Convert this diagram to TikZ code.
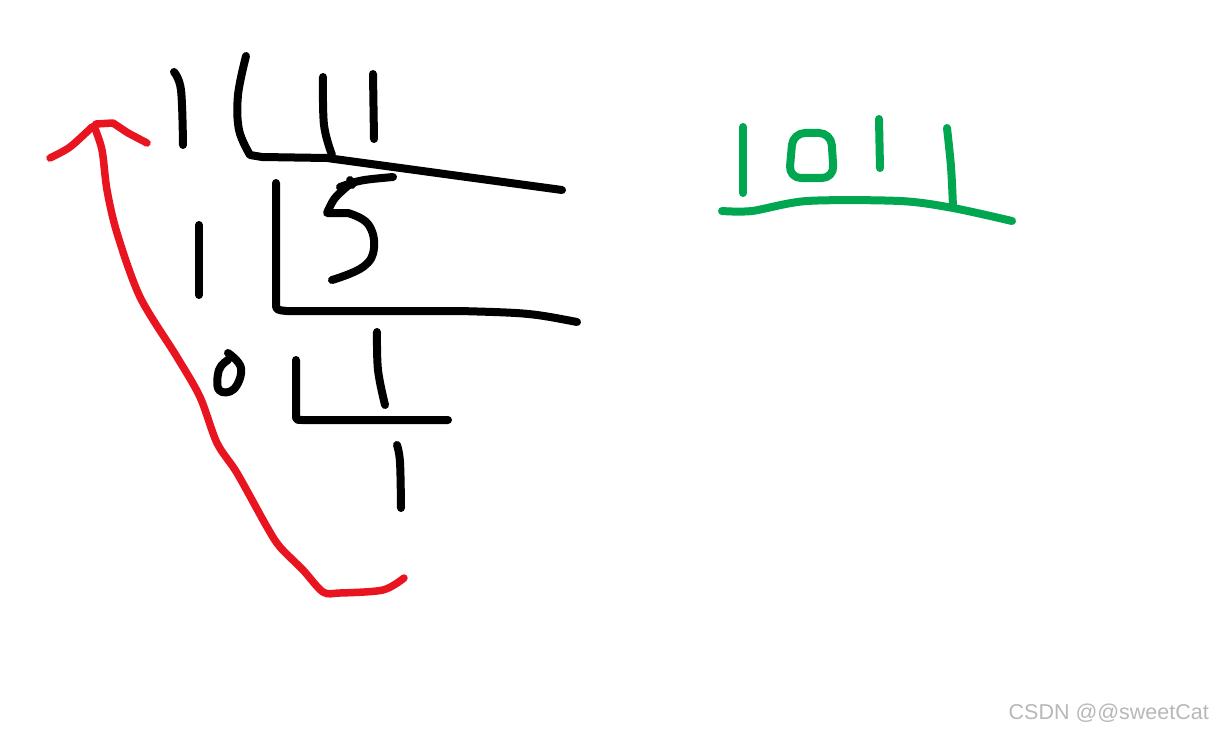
\documentclass[tikz,border=0pt]{standalone}
\usepackage{fontspec}
\setmainfont{Liberation Sans}
\definecolor{inkred}{HTML}{E8141F}
\definecolor{inkgreen}{HTML}{00A650}
\begin{document}
\begin{tikzpicture}[x=1pt,y=-1pt,
  ink/.style={line width=8pt,line cap=round,line join=round},
  blk/.style={ink,black},
  red/.style={ink,inkred,line width=7.5pt},
  grn/.style={ink,inkgreen}]
\useasboundingbox[fill=white] (0,0) rectangle (1213,733);
% black digits and brackets
\draw[blk] plot[smooth,tension=0.6] coordinates {(174,72) (181,90) (183,145)};
\draw[blk] plot[smooth,tension=0.6] coordinates {(246,56) (238,95) (239,130) (250,155)} -- (262,157) -- (327,158) -- (562,190);
\draw[blk] plot[smooth,tension=0.6] coordinates {(323,77) (324,125) (332,155)};
\draw[blk] (373,74) -- (374,139);
% the 5
\draw[blk] (340,187) .. controls (360,180) .. (393,177);
\draw[blk] (350,180) -- (352,185);
\draw[blk] plot[smooth,tension=0.6] coordinates {(350,184) (335,198) (327,213)} -- (348,213)
  plot[smooth,tension=0.7] coordinates {(348,213) (368,224) (374,248) (363,267) (332,280)};
\draw[blk] (199,225) -- (199,295);
\draw[blk] (276,183) -- (276,303) .. controls (276,310) .. (287,311) -- (460,311) .. controls (530,313) .. (577,322);
% lower part
\draw[blk] plot[smooth,tension=0.7] coordinates {(228,353) (241,368) (234,389) (219,390) (219,370) (228,360)};
\draw[blk] plot[smooth,tension=0.6] coordinates {(377,332) (378,370) (385,405)};
\draw[blk] (296,360) -- (296,414) .. controls (296,420) .. (302,420) -- (448,420);
\draw[blk] plot[smooth,tension=0.6] coordinates {(397,445) (400,462) (401,508)};
% red arrow
\draw[red] plot[smooth,tension=0.5] coordinates {(404,578) (383,590) (340,593) (323,592) (303,570) (280,547) (267,527) (237,473) (217,443) (200,397) (177,357) (140,297) (117,233) (107,190) (102,150) (94,126)};
\draw[red] plot[smooth,tension=0.5] coordinates {(50,158) (70,147) (92,127)};
\draw[red] (96,124) -- (113,123) -- (128,133) -- (147,143);
% green 1011
\draw[grn] (743,127) -- (743,193);
\draw[grn,rounded corners=12pt] (793,133) -- (831,133) -- (834,178) -- (789,178) -- cycle;
\draw[grn] (879,119) -- (880,168);
\draw[grn] plot[smooth,tension=0.6] coordinates {(947,128) (951,167) (953,207)};
\draw[grn] plot[smooth,tension=0.5] coordinates {(722,211) (752,211) (807,201) (900,201) (953,208) (1012,221)};
% watermark
\node[text=black!28,font=\fontsize{21.5}{24}\selectfont,anchor=east,inner sep=0pt] (wm) at (1209,713) {CSDN @@sweetCat};
\end{tikzpicture}
\end{document}
